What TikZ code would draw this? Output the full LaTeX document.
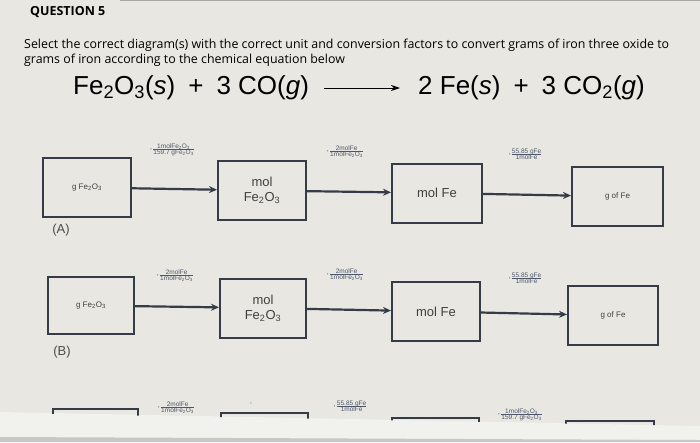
\documentclass[tikz,border=0pt]{standalone}
\usepackage{fontspec}
\setmainfont{Liberation Sans}
\newfontfamily\qfont{Open Sans}
\usepackage{tikz}
\usetikzlibrary{positioning,arrows.meta}
\definecolor{paper}{HTML}{E8E7E2}
\definecolor{ink}{HTML}{353B47}
\definecolor{faint}{HTML}{4E566A}
\newcommand{\subn}[1]{\textsubscript{#1}}
\newcommand{\fac}[2]{\textbf{·}\,\begin{tabular}{@{}c@{}}#1\\[-1.5pt]\hline\noalign{\vskip0.6pt}#2\end{tabular}}

\begin{document}
\begin{tikzpicture}[x=1pt, y=-1pt,
  unitbox/.style={draw=ink, line width=2pt, minimum width=88pt, minimum height=59pt, inner sep=0pt, text=black!75, align=center},
  boxsmall/.style={font=\fontsize{8}{9}\selectfont},
  boxbig/.style={font=\fontsize{13}{15}\selectfont},
  factor/.style={font=\fontsize{6.5}{7}\selectfont, text=faint, inner sep=0pt},
  conv/.style={draw=ink, line width=2.2pt, -{Stealth[length=8pt,width=7pt]}},
  tag/.style={font=\fontsize{13}{15}\selectfont, text=black!70}]
\useasboundingbox (0,0) rectangle (700,442);
\fill[paper] (0,0) rectangle (700,442);
% lower edge of the photographed screen
\fill[paper!60!white] (0,412) -- (700,426) -- (700,442) -- (0,442) -- cycle;
\fill[black!22] (0,437) -- (700,440) -- (700,442) -- (0,442) -- cycle;
% header
\draw[gray!70, line width=1pt] (120,0.5) -- (700,0.5);
\node[anchor=base west, inner sep=0pt, font=\qfont\bfseries\fontsize{12.5}{14}\selectfont] (title) at (30,15) {QUESTION 5};
\node[anchor=north west, align=left, inner sep=0pt, font=\qfont\fontsize{12.4}{15}\selectfont] (prompt) at (24,39)
  {Select the correct diagram(s) with the correct unit and conversion factors to convert grams of iron three oxide to\\
   grams of iron according to the chemical equation below};
% equation
\node[anchor=base west, inner sep=0pt, font=\fontsize{26}{29}\selectfont] (eqL) at (73,94)
  {Fe\subn{2}O\subn{3}(\textit{s})\enspace+\enspace3 CO(\textit{g})};
\node[anchor=base west, inner sep=0pt, font=\fontsize{26}{29}\selectfont] (eqR) at (418,94)
  {2 Fe(\textit{s})\enspace+\enspace3 CO\subn{2}(\textit{g})};
\draw[line width=1pt, -{Stealth[length=9pt,width=6pt]}, shorten <=15pt, shorten >=18pt]
  ([yshift=6pt]eqL.base east) -- ([yshift=6pt]eqR.base west);

% diagram (A)
\node[unitbox, boxsmall] (a1) at (87,187.5) {g Fe\subn{2}O\subn{3}};
\node[unitbox, boxbig] (a2) at (262,190.5) {mol\\Fe\subn{2}O\subn{3}};
\node[unitbox, boxbig, minimum width=90pt] (a3) at (437,193) {mol Fe};
\node[unitbox, boxsmall, minimum width=91pt] (a4) at (617.5,196.5) {g of Fe};
\draw[conv] (a1) -- (a2);
\draw[conv] (a2) -- (a3);
\draw[conv] (a3) -- (a4);
\node[factor] (fa1) at (172,150) {\fac{1molFe\subn{2}O\subn{3}}{159.7 gFe\subn{2}O\subn{3}}};
\node[factor] (fa2) at (345,152) {\fac{2molFe}{1molFe\subn{2}O\subn{3}}};
\node[factor] (fa3) at (525,155) {\fac{55.85 gFe}{1molFe}};
\node[tag] (tagA) at (61,230) {(A)};

% diagram (B)
\node[unitbox, boxsmall, minimum width=86pt, minimum height=57pt] (b1) at (91,305.5) {g Fe\subn{2}O\subn{3}};
\node[unitbox, boxbig, minimum width=86pt] (b2) at (263,308) {mol\\Fe\subn{2}O\subn{3}};
\node[unitbox, boxbig] (b3) at (436,311.5) {mol Fe};
\node[unitbox, boxsmall, minimum width=90pt] (b4) at (613,315.5) {g of Fe};
\draw[conv] (b1) -- (b2);
\draw[conv] (b2) -- (b3);
\draw[conv] (b3) -- (b4);
\node[factor] (fb1) at (175,276) {\fac{2molFe}{1molFe\subn{2}O\subn{3}}};
\node[factor] (fb2) at (345,275) {\fac{2molFe}{1molFe\subn{2}O\subn{3}}};
\node[factor] (fb3) at (525,279) {\fac{55.85 gFe}{1molFe}};
\node[tag] (tagB) at (62,352) {(B)};

% diagram (C), cut off at the bottom
\begin{scope}
\clip (0,0) -- (700,0) -- (700,426) -- (0,413) -- cycle;
\node[unitbox, minimum width=85pt] (c1) at (95.5,438.5) {};
\node[unitbox, minimum width=87pt] (c2) at (264.5,442.5) {};
\node[unitbox, minimum width=87pt] (c3) at (435.5,447.5) {};
\node[unitbox] (c4) at (610,450.5) {};
\end{scope}
\node[factor] (fc1) at (176,408) {\fac{2molFe}{1molFe\subn{2}O\subn{3}}};
\node[factor] (fcm) at (251,404) {,};
\node[factor] (fc2) at (350,407) {\fac{55.85 gFe}{1molFe}};
\node[factor] (fc3) at (520,415) {\fac{1molFe\subn{2}O\subn{3}}{159.7 gFe\subn{2}O\subn{3}}};
\end{tikzpicture}
\end{document}
